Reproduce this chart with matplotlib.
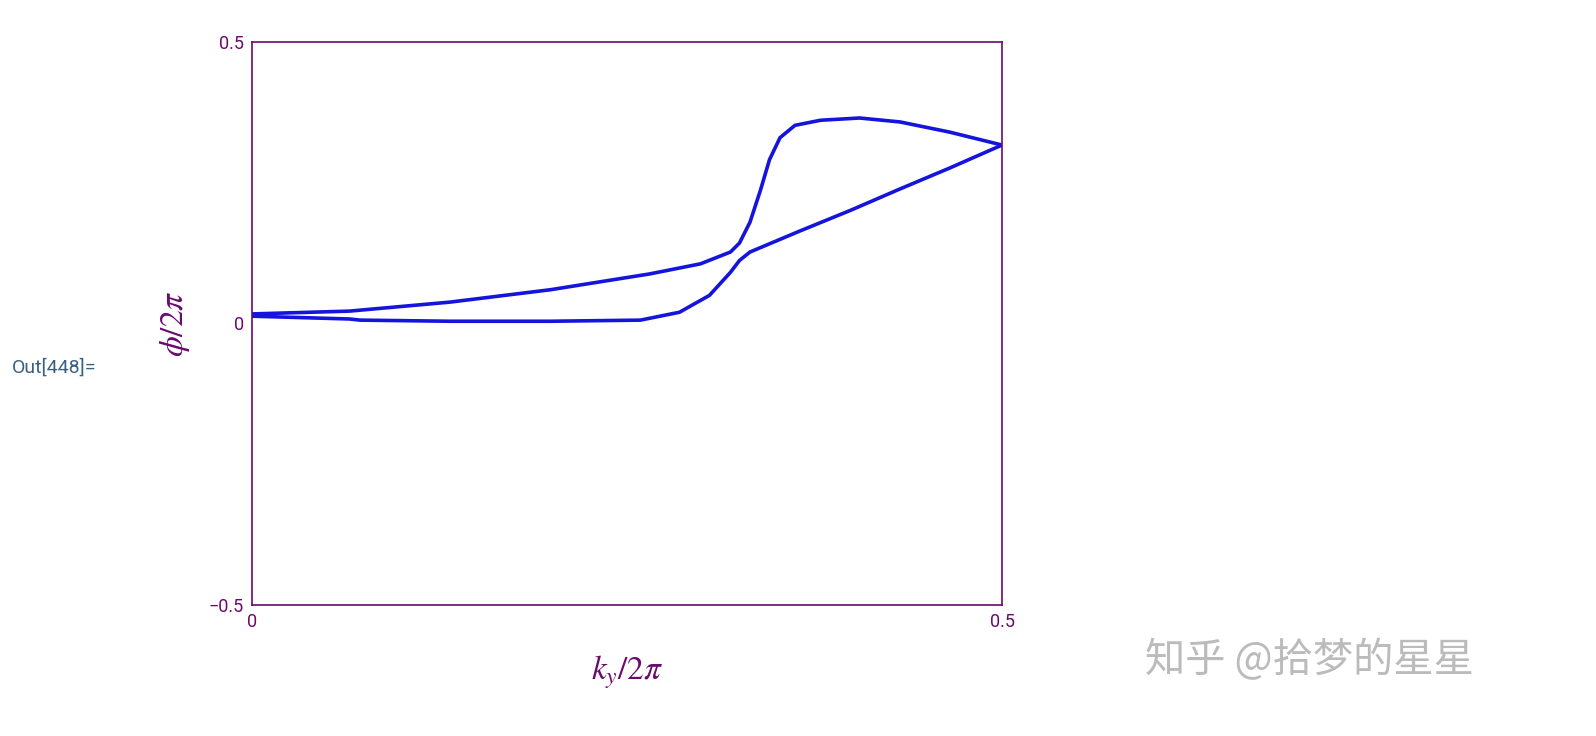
import matplotlib
matplotlib.use("Agg")
import matplotlib.pyplot as plt

plt.rcParams['mathtext.fontset'] = 'stix'

# data
c1_x = [0.0, 0.065, 0.132, 0.199, 0.265, 0.299, 0.319, 0.325, 0.332, 0.339, 0.345, 0.352, 0.362, 0.379, 0.405, 0.432, 0.465, 0.5]
c1_y = [0.017, 0.022, 0.038, 0.060, 0.088, 0.106, 0.127, 0.143, 0.180, 0.237, 0.291, 0.330, 0.352, 0.361, 0.365, 0.358, 0.340, 0.317]
c2_x = [0.0, 0.065, 0.072, 0.132, 0.199, 0.259, 0.285, 0.305, 0.319, 0.325, 0.332, 0.365, 0.399, 0.432, 0.465, 0.5]
c2_y = [0.013, 0.008, 0.006, 0.004, 0.004, 0.006, 0.020, 0.050, 0.091, 0.112, 0.127, 0.164, 0.201, 0.239, 0.276, 0.317]

purple = '#6a0a6e'
fig = plt.figure(figsize=(15.96, 7.36), dpi=100)
ax = fig.add_axes([252/1596, 131/736, 750/1596, 563/736])
ax.plot(c1_x, c1_y, color='#1414dc', lw=2.6)
ax.plot(c2_x, c2_y, color='#1414dc', lw=2.6)
ax.set_xlim(0, 0.5)
ax.set_ylim(-0.5, 0.5)
ax.set_xticks([0, 0.5]); ax.set_xticklabels(['0', '0.5'])
ax.set_yticks([-0.5, 0, 0.5]); ax.set_yticklabels(['\u22120.5', '0', '0.5'])
for s in ax.spines.values():
    s.set_color(purple); s.set_linewidth(1.2)
ax.tick_params(colors=purple, labelcolor=purple, labelsize=13, direction='in', length=0, pad=6)
for t in ax.get_xticklabels() + ax.get_yticklabels():
    t.set_family('Roboto')
ax.set_xlabel(r'$k_y/2\pi$', fontsize=24, color=purple, labelpad=16)
ax.set_ylabel(r'$\phi/2\pi$', fontsize=24, color=purple, labelpad=12)
fig.text(12/1596, 1-368/736, 'Out[448]=', fontsize=14, color='#3a6080', va='center', family='Roboto')
fig.text(1145/1596, 1-660/736, '知乎 @拾梦的星星', fontsize=29, color='#bbbbbb', va='center',
         family=['Noto Sans CJK SC', 'DejaVu Sans'])
fig.savefig('out.png', dpi=100)
